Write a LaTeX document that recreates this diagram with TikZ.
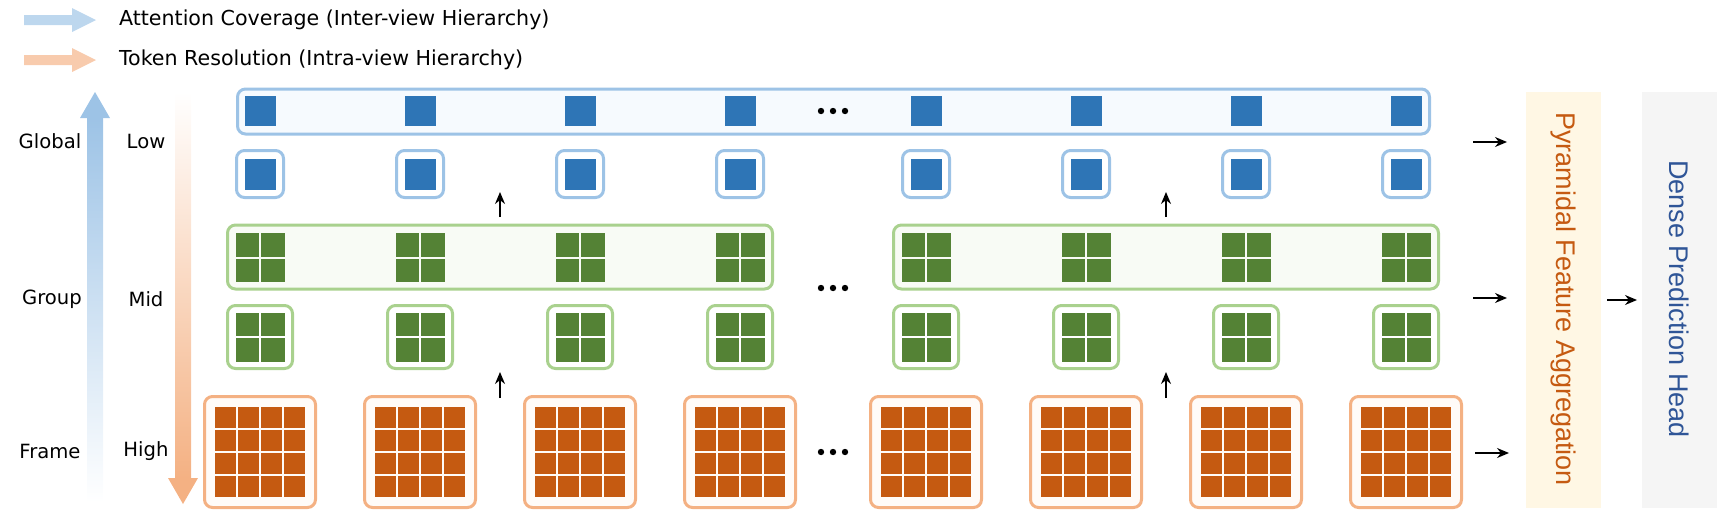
\documentclass[tikz,border=0pt]{standalone}
\usepackage{fontspec}
\setmainfont{DejaVu Sans}
\newfontfamily\hfont{Liberation Sans}
\usetikzlibrary{arrows.meta,shadings}
\definecolor{bsq}{HTML}{2E75B6}\definecolor{bbd}{HTML}{9DC3E6}\definecolor{bfl}{HTML}{F6FAFE}
\definecolor{gsq}{HTML}{548235}\definecolor{gbd}{HTML}{A9D18E}\definecolor{gfl}{HTML}{F8FBF5}
\definecolor{osq}{HTML}{C55A11}\definecolor{obd}{HTML}{F4B183}\definecolor{ofl}{HTML}{FFFBF8}
\definecolor{pfl}{HTML}{FFF7E4}\definecolor{dfl}{HTML}{F5F5F5}\definecolor{dtx}{HTML}{2F5597}
\definecolor{lblue}{HTML}{BDD7EE}\definecolor{lor}{HTML}{F8CBAD}
\begin{document}
\begin{tikzpicture}[x=0.5pt,y=-0.5pt,
  box/.style={draw=#1,line width=1.5pt,rounded corners=4pt,inner sep=0pt},
  lbl/.style={font=\fontsize{9.8}{12}\selectfont,anchor=center},
  leg/.style={font=\fontsize{10.3}{12}\selectfont,anchor=west},
  ar/.style={-{Stealth[length=6pt,width=5pt]},line width=0.7pt},
  dots/.style={inner sep=0pt,minimum size=1pt}]
\useasboundingbox (0,0) rectangle (1724,515);
% legend
\fill[lblue] (24,15) rectangle (72,25) (72,8) -- (96,20) -- (72,32) -- cycle;
\fill[lor] (24,55) rectangle (72,65) (72,48) -- (96,60) -- (72,72) -- cycle;
\node[leg] (t1) at (112,20) {Attention Coverage (Inter-view Hierarchy)};
\node[leg] (t2) at (112,60) {Token Resolution (Intra-view Hierarchy)};
% vertical arrows
\shade[top color=bbd,bottom color=white] (87,118) rectangle (103,502);
\fill[bbd] (80,118) -- (95,92) -- (110,118) -- cycle;
\shade[top color=white,bottom color=obd] (175,92) rectangle (191,478);
\fill[obd] (168,478) -- (183,504) -- (198,478) -- cycle;
\node[lbl] (gl) at (50,141) {Global};
\node[lbl] (lo) at (146,141) {Low};
\node[lbl] (gr) at (52,299) {Group};
\node[lbl] (mi) at (146,299) {Mid};
\node[lbl] (fr) at (50,451) {Frame};
\node[lbl] (hi) at (146,451) {High};
% bars
\node[box=bbd,fill=bfl,minimum width=596pt,minimum height=22.5pt] (bbar) at (833.5,111.5) {};
\node[box=gbd,fill=gfl,minimum width=272.5pt,minimum height=32pt] (gbar1) at (500,257) {};
\node[box=gbd,fill=gfl,minimum width=272.5pt,minimum height=32pt] (gbar2) at (1166,257) {};
\foreach \c [count=\i] in {260,420,580,740,926,1086,1246,1406}{
  \fill[bsq] (\c-15.5,96) rectangle (\c+15.5,126);
  \node[box=bbd,fill=white,minimum size=23.5pt] (b\i) at (\c,174) {};
  \fill[bsq] (\c-15.5,158.5) rectangle (\c+15.5,189.5);
  \foreach \r in {0,1}{\foreach \k in {0,1}{
    \fill[gsq] (\c-24.5+\k*25.5,233+\r*25.5) rectangle ++(23.5,23.5);}}
  \node[box=gbd,fill=white,minimum width=32.5pt,minimum height=31.5pt] (g\i) at (\c,337) {};
  \foreach \r in {0,1}{\foreach \k in {0,1}{
    \fill[gsq] (\c-24.5+\k*25.5,312.5+\r*25.5) rectangle ++(23.5,23.5);}}
  \node[box=obd,fill=ofl,minimum width=55.5pt,minimum height=55.5pt] (f\i) at (\c,452) {};
  \foreach \r in {0,1,2,3}{\foreach \k in {0,1,2,3}{
    \fill[osq] (\c-45.5+\k*23.2,406.5+\r*23.2) rectangle ++(21,21);}}
}
\foreach \y/\n in {111/d1,288/d2,452/d3}{
  \node[dots] (\n) at (833,\y) {};
  \fill (\n) circle (1.6pt) ++(-12,0) circle (1.6pt) ++(24,0) circle (1.6pt);}
% up arrows
\foreach \x/\n in {500/a,1166/b}{
  \coordinate (\n1) at (\x,217); \coordinate (\n2) at (\x,192);
  \coordinate (\n3) at (\x,398); \coordinate (\n4) at (\x,372);
  \draw[ar] (\n1) -- (\n2); \draw[ar] (\n3) -- (\n4);}
% panels
\node[fill=pfl,minimum width=37.5pt,minimum height=208pt,inner sep=0pt] (pfa) at (1563.5,300) {};
\node[rotate=-90,text=osq,font=\hfont\fontsize{13.5}{14}\selectfont] (pft) at (1563.5,299) {Pyramidal Feature Aggregation};
\node[fill=dfl,minimum width=37.5pt,minimum height=208pt,inner sep=0pt] (dph) at (1679.5,300) {};
\node[rotate=-90,text=dtx,font=\hfont\fontsize{13.5}{14}\selectfont] (dpt) at (1679.5,299) {Dense Prediction Head};
\coordinate (r1) at (1473,142); \coordinate (r2) at (1473,298); \coordinate (r3) at (1475,453);
\coordinate (s1) at (1507,142); \coordinate (s2) at (1507,298); \coordinate (s3) at (1509,453);
\coordinate (q1) at (1607,300); \coordinate (q2) at (1637,300);
\draw[ar] (r1) -- (s1);
\draw[ar] (r2) -- (s2);
\draw[ar] (r3) -- (s3);
\draw[ar] (q1) -- (q2);
\end{tikzpicture}
\end{document}
